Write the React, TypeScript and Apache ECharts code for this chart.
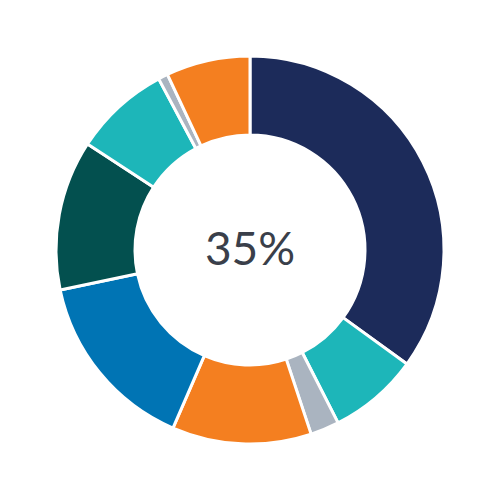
import { useRef, useEffect } from 'react'
import * as echarts from 'echarts'

const labels = ['A', 'B', 'C', 'D', 'E', 'F', 'G', 'H', 'I']
const values = [35, 7.5, 2.4, 11.6, 15.2, 12.5, 8, 0.8, 7]
const colors = ['#1c2b5a', '#1db6b9', '#aab4c0', '#f47f20', '#0074b4', '#03504f', '#1db6b9', '#aab4c0', '#f47f20']
const centerLabel = '35%'

export default function App() {
  const chartRef = useRef<HTMLDivElement>(null)

  useEffect(() => {
    if (!chartRef.current) return
    const instance = echarts.init(chartRef.current, null, { renderer: 'svg' })
    instance.setOption({
      animation: false,
      graphic: [
        {
          type: 'text',
          x: 250,
          y: 247,
          style: {
            text: centerLabel,
            fontSize: 46,
            fontFamily: 'Lato',
            fill: '#3a3f4a',
            textAlign: 'center',
            textVerticalAlign: 'middle',
          },
        },
      ],
      series: [
        {
          type: 'pie',
          center: [250, 250],
          radius: [115, 194],
          startAngle: 90,
          clockwise: true,
          label: { show: false },
          labelLine: { show: false },
          emphasis: { disabled: true },
          itemStyle: { borderColor: '#fff', borderWidth: 3 },
          data: values.map((v, i) => ({
            name: labels[i],
            value: v,
            itemStyle: { color: colors[i] },
          })),
        },
      ],
    })
    return () => instance.dispose()
  }, [])

  return (
    <div
      ref={chartRef}
      style={{ position: 'absolute', left: 0, top: 0, width: 500, height: 500, background: '#fff' }}
    />
  )
}
